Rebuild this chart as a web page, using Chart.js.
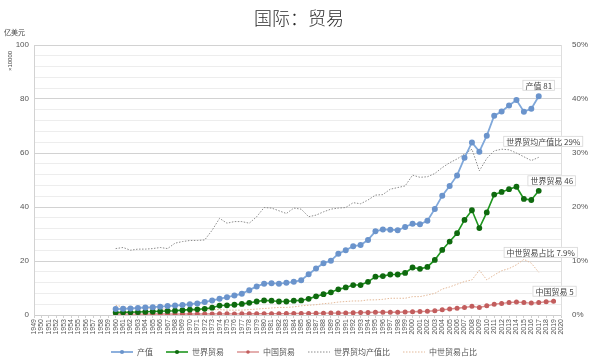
<!DOCTYPE html>
<html><head><meta charset="utf-8">
<script src="https://cdn.jsdelivr.net/npm/chart.js@4.4.1/dist/chart.umd.min.js"></script>
<style>html,body{margin:0;padding:0;background:#fff}#wrap{width:600px;height:360px;position:relative}</style>
</head><body><div id="wrap"><canvas id="c" width="600" height="360"></canvas></div>
<script>
// ---- categories (x tick labels) ----
const years = ['1949','1950','1951','1952','1953','1954','1955','1956','1957','1958','1959',
 '1960','1961','1962','1963','1964','1965','1966','1967','1968','1969',
 '1970','1971','1972','1973','1974','1975','1976','1977','1978','1979',
 '1980','1981','1982','1983','1984','1985','1986','1987','1988','1989',
 '1990','1991','1992','1993','1994','1995','1996','1997','1998','1999',
 '2000','2001','2002','2003','2004','2005','2006','2007','2008','2009',
 '2010','2011','2012','2013','2014','2015','2016','2017','2018','2019','2020'];
const seriesStart = '1960';
const seriesNames = ['产值','世界贸易','中国贸易','世界贸均产值比','中世贸易占比'];
// ---- series values (from 1960) ----
const output = [2.2,2.3,2.4,2.6,2.8,2.9,3.1,3.3,3.5,3.7,
 4.0,4.3,4.8,5.4,6.0,6.6,7.2,7.9,9.2,10.6,
 11.6,11.8,11.6,11.9,12.3,12.9,15.1,17.2,19.2,20.1,
 22.7,24.0,25.5,25.9,27.8,31.0,31.7,31.6,31.4,32.6,
 33.8,33.6,34.9,39.3,44.2,47.8,51.7,58.2,63.9,60.5,
 66.4,73.8,75.4,77.6,79.6,75.3,76.4,81.0];
const worldTrade = [0.9,1.0,1.0,1.1,1.2,1.3,1.4,1.5,1.6,1.8,
 2.0,2.1,2.3,2.7,3.5,3.6,3.8,4.1,4.5,5.0,
 5.4,5.3,5.0,5.0,5.3,5.4,6.0,6.9,7.7,8.4,
 9.5,10.2,11.1,11.1,12.3,14.2,14.4,15.0,15.0,15.6,
 17.6,17.1,17.8,20.4,24.1,27.2,30.3,35.2,38.8,32.2,
 38.0,44.6,45.6,46.6,47.5,43.0,42.6,46.0];
const chinaTrade = [0.35,0.36,0.33,0.32,0.33,0.35,0.37,0.35,0.34,0.35,
 0.36,0.37,0.38,0.4,0.42,0.42,0.41,0.42,0.44,0.46,
 0.5,0.5,0.5,0.52,0.55,0.6,0.6,0.62,0.68,0.7,
 0.7,0.75,0.8,0.9,0.9,1.0,1.0,1.0,1.0,1.1,
 1.2,1.3,1.4,1.6,1.9,2.2,2.5,2.8,3.2,2.8,
 3.4,4.0,4.3,4.6,4.8,4.6,4.4,4.6,4.9,5.1];
const tradeOutputRatio = [12.3,12.5,12.0,12.2,12.2,12.3,12.5,12.3,13.3,13.6,
 13.8,13.8,13.9,15.7,17.9,17.0,17.3,17.3,17.0,18.2,
 19.9,19.8,19.3,18.8,19.8,19.6,18.2,18.5,19.1,19.6,
 19.8,19.9,20.8,20.6,21.3,22.2,22.3,23.3,23.6,23.9,
 25.9,25.5,25.6,26.2,27.3,28.2,28.9,29.8,30.7,26.7,
 29.0,30.4,30.7,30.6,30.0,29.3,28.6,29.2];
const chinaShare = [1.8,1.5,1.3,1.2,1.2,1.3,1.2,1.0,0.9,0.8,
 0.8,0.8,0.9,1.0,1.0,0.9,0.9,0.9,1.0,1.1,
 1.2,1.3,1.4,1.4,1.5,1.7,1.8,1.9,2.1,2.2,
 2.4,2.5,2.6,2.6,2.8,2.8,2.9,3.1,3.1,3.1,
 3.4,3.4,3.7,4.0,4.8,5.2,5.7,6.2,6.5,8.3,
 6.5,7.4,8.2,8.6,9.3,10.3,9.6,7.9];
const endLabels = ['产值 81','世界贸易 46','中国贸易 5','世界贸均产值比 29%','中世贸易占比 7.9%'];
const leftMax = 100, rightMax = 50;

const lead = years.indexOf(seriesStart);
const pad = arr => Array(lead).fill(null).concat(arr);

const CJK = '"Noto Sans CJK SC", sans-serif';
const LAT = '"Liberation Sans", Arial, sans-serif';

const datasets = [
 {label: seriesNames[0], data: pad(output), yAxisID:'y', borderColor:'#80a8da', backgroundColor:'#6b94cc',
  pointBackgroundColor:'#6b94cc', pointBorderColor:'#6b94cc', pointRadius:2.1, borderWidth:1.8, order:1},
 {label: seriesNames[1], data: pad(worldTrade), yAxisID:'y', borderColor:'#1f961f', backgroundColor:'#0f6a0f',
  pointBackgroundColor:'#0f6a0f', pointBorderColor:'#0f6a0f', pointRadius:2.1, borderWidth:1.6, order:2},
 {label: seriesNames[2], data: pad(chinaTrade), yAxisID:'y', borderColor:'#d98c8c', backgroundColor:'#c25d5d',
  pointBackgroundColor:'#c25d5d', pointBorderColor:'#c25d5d', pointRadius:1.8, borderWidth:1.4, order:3},
 {label: seriesNames[3], data: pad(tradeOutputRatio), yAxisID:'y1', borderColor:'#8c8c8c', backgroundColor:'#8c8c8c',
  pointRadius:0, borderWidth:1, borderDash:[1.5,1.5], order:4},
 {label: seriesNames[4], data: pad(chinaShare), yAxisID:'y1', borderColor:'#e3b999', backgroundColor:'#e3b999',
  pointRadius:0, borderWidth:1, borderDash:[1.5,1.5], order:5}
];
const labelOffsets = [[0,-11],[13,-10],[1,-10],[4.5,-16],[2,-20]];

const extras = {
 id:'extras',
 afterDraw(chart){
  const ctx = chart.ctx;
  ctx.save();
  // title
  ctx.fillStyle = '#2a2a2a'; ctx.textAlign='center'; ctx.textBaseline='middle';
  ctx.font = '300 18px ' + CJK;
  ctx.fillText('国际：贸易', 299, 18);
  // unit
  ctx.font = '7px ' + CJK; ctx.fillStyle='#444'; ctx.textAlign='left';
  ctx.fillText('亿美元', 4, 32);
  ctx.save(); ctx.translate(10, 61); ctx.rotate(-Math.PI/2);
  ctx.font = '6px ' + LAT; ctx.textAlign='center'; ctx.fillText('×10000', 0, 0);
  ctx.restore();
  // end labels
  ctx.font = '8px ' + CJK; ctx.textBaseline='middle'; ctx.textAlign='center';
  chart.data.datasets.forEach((ds, i) => {
    const meta = chart.getDatasetMeta(i);
    let idx = -1;
    ds.data.forEach((v,k)=>{ if(v!==null) idx=k; });
    const pt = meta.data[idx];
    const cx = pt.x + labelOffsets[i][0], cy = pt.y + labelOffsets[i][1];
    const w = ctx.measureText(endLabels[i]).width + 6, h = 11;
    ctx.fillStyle = 'rgba(255,255,255,0.92)';
    ctx.fillRect(cx - w/2, cy - h/2, w, h);
    ctx.strokeStyle = '#d6d6d6'; ctx.lineWidth = 0.8; ctx.setLineDash([]);
    ctx.strokeRect(cx - w/2 + 0.5, cy - h/2 + 0.5, w - 1, h - 1);
    ctx.fillStyle = '#444';
    ctx.fillText(endLabels[i], cx, cy + 0.5);
  });
  // legend
  ctx.font = '8px ' + CJK; ctx.textAlign='left';
  const sample = 22, gap = 4, spacing = 13, ly = 352;
  const widths = chart.data.datasets.map(ds => ctx.measureText(ds.label).width);
  const total = widths.reduce((a,b)=>a+b,0) + datasets.length*(sample+gap) + (datasets.length-1)*spacing;
  let x = 294 - total/2;
  chart.data.datasets.forEach((ds, i) => {
    ctx.strokeStyle = ds.borderColor; ctx.lineWidth = ds.borderWidth;
    ctx.setLineDash(ds.borderDash || []);
    ctx.beginPath(); ctx.moveTo(x, ly); ctx.lineTo(x+sample, ly); ctx.stroke();
    ctx.setLineDash([]);
    if (ds.pointRadius > 0) {
      ctx.fillStyle = ds.pointBackgroundColor;
      ctx.beginPath(); ctx.arc(x+sample/2, ly, ds.pointRadius, 0, Math.PI*2); ctx.fill();
    }
    ctx.fillStyle = '#555';
    ctx.fillText(ds.label, x + sample + gap, ly);
    x += sample + gap + widths[i] + spacing;
  });
  ctx.restore();
 }
};

new Chart(document.getElementById('c'), {
 type:'line',
 data:{labels: years, datasets},
 options:{
  responsive:false, animation:false, devicePixelRatio:1,
  layout:{padding:{top:45, bottom:15, left:0, right:0}},
  plugins:{legend:{display:false}, title:{display:false}, tooltip:{enabled:false}},
  elements:{line:{tension:0}},
  scales:{
   x:{
    offset:false,
    grid:{display:true, drawOnChartArea:false, drawTicks:true, tickLength:3, color:'#cfcfcf'},
    border:{display:true, color:'#cfcfcf'},
    ticks:{autoSkip:false, minRotation:90, maxRotation:90, color:'#555', padding:1, font:{size:7, family:LAT}},
    afterFit(s){ s.height = 30; }
   },
   y:{
    position:'left', min:0, max:leftMax,
    ticks:{stepSize:4, autoSkip:false, color:'#555', padding:5, font:{size:8, family:LAT},
      callback:v => (v % 20 === 0 ? String(v) : '')},
    grid:{drawTicks:false, color: c => (c.tick && c.tick.value % 20 === 0 ? '#d2d2d2' : '#ededed'), lineWidth:1},
    border:{display:true, color:'#d2d2d2'},
    afterFit(s){ s.width = 34; }
   },
   y1:{
    position:'right', min:0, max:rightMax,
    ticks:{stepSize:10, autoSkip:false, color:'#555', padding:11, font:{size:8, family:LAT}, callback:v => v + '%'},
    grid:{drawOnChartArea:false, drawTicks:false},
    border:{display:true, color:'#dedede'},
    afterFit(s){ s.width = 39; }
   }
  }
 },
 plugins:[extras]
});
</script>
</body></html>
